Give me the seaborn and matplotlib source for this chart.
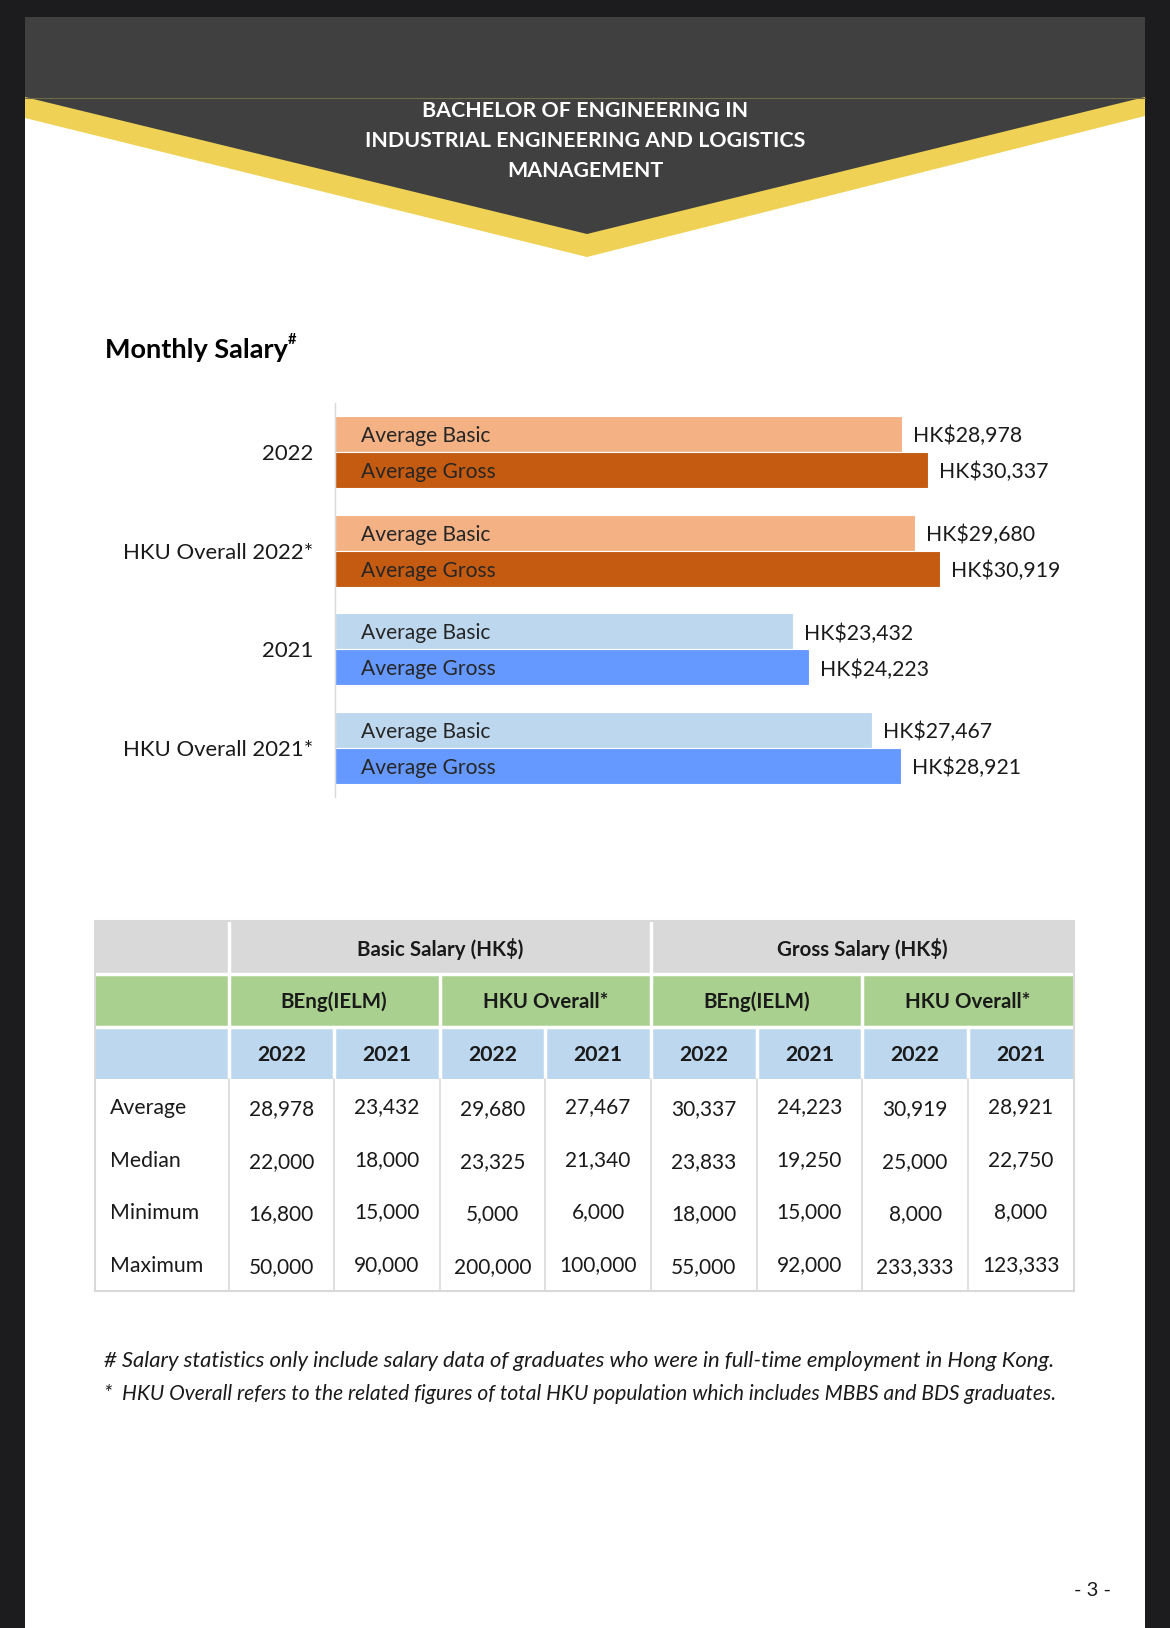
import matplotlib
matplotlib.use("Agg")
import matplotlib.pyplot as plt
import matplotlib.patches as mpatches
import seaborn as sns
import pandas as pd

# ---------------- data ----------------
categories = ["2022", "HKU Overall 2022*", "2021", "HKU Overall 2021*"]
measures = ["Average Basic", "Average Gross"]
avg_basic = [28978, 29680, 23432, 27467]
avg_gross = [30337, 30919, 24223, 28921]

title_lines = ["BACHELOR OF ENGINEERING IN",
               "INDUSTRIAL ENGINEERING AND LOGISTICS",
               "MANAGEMENT"]

table_stats = ["Average", "Median", "Minimum", "Maximum"]
table_groups = ["Basic Salary (HK$)", "Gross Salary (HK$)"]
table_sub = ["BEng(IELM)", "HKU Overall*", "BEng(IELM)", "HKU Overall*"]
table_years = ["2022", "2021", "2022", "2021", "2022", "2021", "2022", "2021"]
basic_ielm_2022 = [28978, 22000, 16800, 50000]
basic_ielm_2021 = [23432, 18000, 15000, 90000]
basic_hku_2022 = [29680, 23325, 5000, 200000]
basic_hku_2021 = [27467, 21340, 6000, 100000]
gross_ielm_2022 = [30337, 23833, 18000, 55000]
gross_ielm_2021 = [24223, 19250, 15000, 92000]
gross_hku_2022 = [30919, 25000, 8000, 233333]
gross_hku_2021 = [28921, 22750, 8000, 123333]
table_columns = [basic_ielm_2022, basic_ielm_2021, basic_hku_2022, basic_hku_2021,
                 gross_ielm_2022, gross_ielm_2021, gross_hku_2022, gross_hku_2021]

footnotes = ["# Salary statistics only include salary data of graduates who were in full-time employment in Hong Kong.",
             "*  HKU Overall refers to the related figures of total HKU population which includes MBBS and BDS graduates."]
page_label = "- 3 -"

# ---------------- style ----------------
sns.set_theme(style="white")
plt.rcParams["font.family"] = ["Lato", "DejaVu Sans"]

W, H = 1170, 1628
fig = plt.figure(figsize=(W / 100, H / 100), dpi=100)
fig.patch.set_facecolor("#1c1c1e")

bg = fig.add_axes([0, 0, 1, 1])
bg.set_xlim(0, W)
bg.set_ylim(H, 0)
bg.axis("off")
bg.set_zorder(0)

# page
PL, PT, PR = 25, 17, 1145
bg.add_patch(mpatches.Rectangle((PL, 97), PR - PL, H - 97, color="white", zorder=1, lw=0))
# header band
dark = "#404040"
yellow = "#EFD255"
cx = (PL + PR) / 2 + 2
bg.add_patch(mpatches.Polygon([(PL, 96), (PR, 96), (PR, 116), (cx, 257), (PL, 118)],
                              closed=True, color=yellow, zorder=2, lw=0))
bg.add_patch(mpatches.Rectangle((PL, PT), PR - PL, 97 - PT, color=dark, zorder=3, lw=0))
bg.add_patch(mpatches.Polygon([(PL, 97), (PR, 97), (cx, 234)],
                              closed=True, color=dark, zorder=3, lw=0))
bg.plot([PL, PR], [97.5, 97.5], color="#6e6a48", lw=0.8, zorder=4)

for i, line in enumerate(title_lines):
    bg.text(585, 111 + i * 30, line, color="white", fontsize=15.4, fontweight="bold",
            ha="center", va="center", zorder=5)

# section title
bg.text(105, 350, "Monthly Salary", fontsize=19.5, fontweight="bold", color="black",
        ha="left", va="center", zorder=5)
bg.text(288, 340, "#", fontsize=10.5, fontweight="bold", color="black",
        ha="left", va="center", zorder=5)

# ---------------- bar chart ----------------
df = pd.DataFrame({
    "category": categories * 2,
    "measure": [measures[0]] * len(categories) + [measures[1]] * len(categories),
    "value": avg_basic + avg_gross,
})

ax = fig.add_axes([335.4 / W, 1 - 797.4 / H, 781.6 / W, 394.6 / H])
ax.set_zorder(5)
ax.patch.set_alpha(0)
sns.barplot(data=df, y="category", x="value", hue="measure", orient="h",
            order=categories, hue_order=measures, width=0.73, dodge=True,
            legend=False, ax=ax, errorbar=None)
ax.set_xlim(0, 40000)
ax.set_ylim(3.5, -0.5)

basic_colors = ["#F4B183", "#F4B183", "#BDD7EE", "#BDD7EE"]
gross_colors = ["#C55A11", "#C55A11", "#6699FF", "#6699FF"]
for cont, cols, vals, name in zip(ax.containers, [basic_colors, gross_colors],
                                  [avg_basic, avg_gross], measures):
    for bar, col, v in zip(cont, cols, vals):
        bar.set_facecolor(col)
        bar.set_edgecolor("white")
        bar.set_linewidth(0.8)
        yc = bar.get_y() + bar.get_height() / 2
        ax.annotate(name, (0, yc), xytext=(26, -2), textcoords="offset pixels",
                    ha="left", va="center", fontsize=15.1, color="#262626")
        ax.annotate(f"HK${v:,}", (bar.get_width(), yc), xytext=(11, -2),
                    textcoords="offset pixels", ha="left", va="center",
                    fontsize=15.3, color="#1a1a1a")

ax.set_xlabel("")
ax.set_ylabel("")
ax.set_xticks([])
ax.tick_params(axis="y", length=0, pad=16, labelsize=15.9, labelcolor="#1a1a1a")
for s in ["top", "right", "bottom"]:
    ax.spines[s].set_visible(False)
ax.spines["left"].set_color("#d9d9d9")
ax.spines["left"].set_linewidth(1.0)

# ---------------- table ----------------
TL, TT = 94.5, 921
c0w = 134
cw = (1073.5 - TL - c0w) / 8
rh = 52.8
col_x = [TL, TL + c0w] + [TL + c0w + cw * (i + 1) for i in range(8)]
TR = col_x[-1]
z = 6
hdr_gray = "#D9D9D9"
hdr_green = "#A9D08E"
hdr_blue = "#BDD7EE"
grid = "#D9D9D9"

# header fills
bg.add_patch(mpatches.Rectangle((TL, TT), TR - TL, rh, color=hdr_gray, zorder=z, lw=0))
bg.add_patch(mpatches.Rectangle((TL, TT + rh), TR - TL, rh, color=hdr_green, zorder=z, lw=0))
bg.add_patch(mpatches.Rectangle((TL, TT + 2 * rh), TR - TL, rh, color=hdr_blue, zorder=z, lw=0))
# white separators in header
for yy in [TT + rh, TT + 2 * rh]:
    bg.plot([TL, TR], [yy, yy], color="white", lw=2.5, zorder=z + 1)
bg.plot([col_x[1]] * 2, [TT, TT + 3 * rh], color="white", lw=2.5, zorder=z + 1)
bg.plot([col_x[5]] * 2, [TT, TT + 3 * rh], color="white", lw=2.5, zorder=z + 1)
for k in [3, 7]:
    bg.plot([col_x[k]] * 2, [TT + rh, TT + 3 * rh], color="white", lw=2.5, zorder=z + 1)
for k in [2, 4, 6, 8]:
    bg.plot([col_x[k]] * 2, [TT + 2 * rh, TT + 3 * rh], color="white", lw=2.5, zorder=z + 1)
# body grid
body_top = TT + 3 * rh
body_bot = TT + 7 * rh
for k in range(1, 9):
    bg.plot([col_x[k]] * 2, [body_top, body_bot], color=grid, lw=1.2, zorder=z + 1)
bg.add_patch(mpatches.Rectangle((TL, TT), TR - TL, 7 * rh, fill=False, edgecolor=grid,
                                lw=1.5, zorder=z + 2))

# header texts
for g, name in enumerate(table_groups):
    xc = (col_x[1 + 4 * g] + col_x[5 + 4 * g]) / 2
    bg.text(xc, TT + rh / 2 + 2, name, ha="center", va="center", fontsize=14.8,
            fontweight="bold", color="#1a1a1a", zorder=z + 3)
for s, name in enumerate(table_sub):
    xc = (col_x[1 + 2 * s] + col_x[3 + 2 * s]) / 2
    bg.text(xc, TT + 1.5 * rh + 2, name, ha="center", va="center", fontsize=14.8,
            fontweight="bold", color="#1a1a1a", zorder=z + 3)
for c, yr in enumerate(table_years):
    xc = (col_x[1 + c] + col_x[2 + c]) / 2
    bg.text(xc, TT + 2.5 * rh + 2, yr, ha="center", va="center", fontsize=15.3,
            fontweight="bold", color="#1a1a1a", zorder=z + 3)
# body texts
for r, stat in enumerate(table_stats):
    yc = body_top + (r + 0.5) * rh + 2
    bg.text(TL + 15, yc, stat, ha="left", va="center", fontsize=15.3,
            color="#1a1a1a", zorder=z + 3)
    for c, col in enumerate(table_columns):
        xc = (col_x[1 + c] + col_x[2 + c]) / 2
        bg.text(xc, yc + (1 if c % 2 == 0 else -1), f"{col[r]:,}", ha="center",
                va="center", fontsize=15, color="#1a1a1a", zorder=z + 3)

# footnotes
for i, (fn, fs) in enumerate(zip(footnotes, [15.8, 15.1])):
    bg.text(104, 1361 + i * 33, fn, ha="left", va="center", fontsize=fs,
            fontstyle="italic", color="#1a1a1a", zorder=z + 3)

bg.text(1093, 1590, page_label, ha="center", va="center", fontsize=14.5,
        color="#1a1a1a", zorder=z + 3)

fig.savefig("out.png", dpi=100, facecolor=fig.get_facecolor())
